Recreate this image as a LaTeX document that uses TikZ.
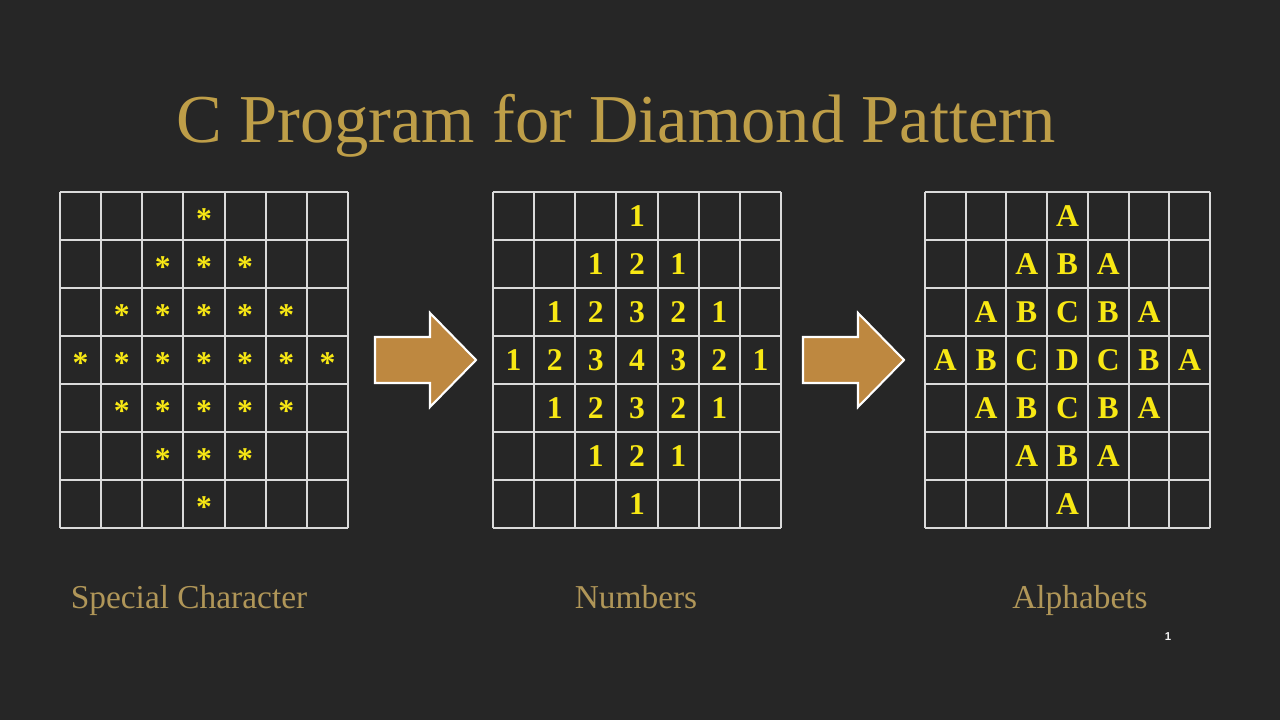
\documentclass[tikz,border=0pt]{standalone}
\usepackage{fontspec}
\setmainfont{Liberation Serif}
\newfontfamily\slidesans{Liberation Sans}
\usepackage{tikz}

\definecolor{slidebg}{RGB}{38,38,38}
\definecolor{titlegold}{RGB}{190,158,72}
\definecolor{labelgold}{RGB}{176,150,88}
\definecolor{cellyellow}{RGB}{248,232,20}
\definecolor{gridgray}{RGB}{218,218,218}
\definecolor{arrowbrown}{RGB}{190,136,64}

\begin{document}
\begin{tikzpicture}[every node/.style={inner sep=0pt, outer sep=0pt},
  cell/.style={text=cellyellow, font=\fontsize{18}{18}\selectfont\bfseries},
  starcell/.style={cell, yshift=-2pt},
  caption/.style={text=labelgold, font=\fontsize{19}{19}\selectfont, anchor=base},
  gridline/.style={step=1, color=gridgray, line width=1.1pt},
  bigarrow/.style={fill=arrowbrown, draw=white, line width=1.2pt, line join=miter}]

\fill[slidebg] (0,0) rectangle (25.6,14.4);
\useasboundingbox (0,0) rectangle (25.6,14.4);

\node[text=titlegold, font=\fontsize{39}{39}\selectfont, anchor=base] (title) at (12.32,11.54) {C Program for Diamond Pattern};

% special character
\begin{scope}[shift={(1.2,3.84)}, x=0.8229cm, y=0.96cm]
\node[starcell] (s14) at (3.5,6.5) {*};
\node[starcell] (s23) at (2.5,5.5) {*};
\node[starcell] (s24) at (3.5,5.5) {*};
\node[starcell] (s25) at (4.5,5.5) {*};
\node[starcell] (s32) at (1.5,4.5) {*};
\node[starcell] (s33) at (2.5,4.5) {*};
\node[starcell] (s34) at (3.5,4.5) {*};
\node[starcell] (s35) at (4.5,4.5) {*};
\node[starcell] (s36) at (5.5,4.5) {*};
\node[starcell] (s41) at (0.5,3.5) {*};
\node[starcell] (s42) at (1.5,3.5) {*};
\node[starcell] (s43) at (2.5,3.5) {*};
\node[starcell] (s44) at (3.5,3.5) {*};
\node[starcell] (s45) at (4.5,3.5) {*};
\node[starcell] (s46) at (5.5,3.5) {*};
\node[starcell] (s47) at (6.5,3.5) {*};
\node[starcell] (s52) at (1.5,2.5) {*};
\node[starcell] (s53) at (2.5,2.5) {*};
\node[starcell] (s54) at (3.5,2.5) {*};
\node[starcell] (s55) at (4.5,2.5) {*};
\node[starcell] (s56) at (5.5,2.5) {*};
\node[starcell] (s63) at (2.5,1.5) {*};
\node[starcell] (s64) at (3.5,1.5) {*};
\node[starcell] (s65) at (4.5,1.5) {*};
\node[starcell] (s74) at (3.5,0.5) {*};
\draw[gridline] (0,0) grid (7,7);
\end{scope}

% numbers
\begin{scope}[shift={(9.86,3.84)}, x=0.8229cm, y=0.96cm]
\node[cell] (n14) at (3.5,6.5) {1};
\node[cell] (n23) at (2.5,5.5) {1};
\node[cell] (n24) at (3.5,5.5) {2};
\node[cell] (n25) at (4.5,5.5) {1};
\node[cell] (n32) at (1.5,4.5) {1};
\node[cell] (n33) at (2.5,4.5) {2};
\node[cell] (n34) at (3.5,4.5) {3};
\node[cell] (n35) at (4.5,4.5) {2};
\node[cell] (n36) at (5.5,4.5) {1};
\node[cell] (n41) at (0.5,3.5) {1};
\node[cell] (n42) at (1.5,3.5) {2};
\node[cell] (n43) at (2.5,3.5) {3};
\node[cell] (n44) at (3.5,3.5) {4};
\node[cell] (n45) at (4.5,3.5) {3};
\node[cell] (n46) at (5.5,3.5) {2};
\node[cell] (n47) at (6.5,3.5) {1};
\node[cell] (n52) at (1.5,2.5) {1};
\node[cell] (n53) at (2.5,2.5) {2};
\node[cell] (n54) at (3.5,2.5) {3};
\node[cell] (n55) at (4.5,2.5) {2};
\node[cell] (n56) at (5.5,2.5) {1};
\node[cell] (n63) at (2.5,1.5) {1};
\node[cell] (n64) at (3.5,1.5) {2};
\node[cell] (n65) at (4.5,1.5) {1};
\node[cell] (n74) at (3.5,0.5) {1};
\draw[gridline] (0,0) grid (7,7);
\end{scope}

% alphabets
\begin{scope}[shift={(18.5,3.84)}, x=0.8143cm, y=0.96cm]
\node[cell] (a14) at (3.5,6.5) {A};
\node[cell] (a23) at (2.5,5.5) {A};
\node[cell] (a24) at (3.5,5.5) {B};
\node[cell] (a25) at (4.5,5.5) {A};
\node[cell] (a32) at (1.5,4.5) {A};
\node[cell] (a33) at (2.5,4.5) {B};
\node[cell] (a34) at (3.5,4.5) {C};
\node[cell] (a35) at (4.5,4.5) {B};
\node[cell] (a36) at (5.5,4.5) {A};
\node[cell] (a41) at (0.5,3.5) {A};
\node[cell] (a42) at (1.5,3.5) {B};
\node[cell] (a43) at (2.5,3.5) {C};
\node[cell] (a44) at (3.5,3.5) {D};
\node[cell] (a45) at (4.5,3.5) {C};
\node[cell] (a46) at (5.5,3.5) {B};
\node[cell] (a47) at (6.5,3.5) {A};
\node[cell] (a52) at (1.5,2.5) {A};
\node[cell] (a53) at (2.5,2.5) {B};
\node[cell] (a54) at (3.5,2.5) {C};
\node[cell] (a55) at (4.5,2.5) {B};
\node[cell] (a56) at (5.5,2.5) {A};
\node[cell] (a63) at (2.5,1.5) {A};
\node[cell] (a64) at (3.5,1.5) {B};
\node[cell] (a65) at (4.5,1.5) {A};
\node[cell] (a74) at (3.5,0.5) {A};
\draw[gridline] (0,0) grid (7,7);
\end{scope}

% arrows
\draw[bigarrow] (7.5,6.74) -- (8.6,6.74) -- (8.6,6.26) -- (9.52,7.2) -- (8.6,8.14) -- (8.6,7.66) -- (7.5,7.66) -- cycle;
\draw[bigarrow] (16.06,6.74) -- (17.16,6.74) -- (17.16,6.26) -- (18.08,7.2) -- (17.16,8.14) -- (17.16,7.66) -- (16.06,7.66) -- cycle;

\node[caption] (special) at (3.78,2.22) {Special Character};
\node[caption] (numbers) at (12.72,2.22) {Numbers};
\node[caption] (alphabets) at (21.6,2.22) {Alphabets};

\node[text=white!90!gray, font=\slidesans\fontsize{6.5}{6.5}\selectfont\bfseries] (slideno) at (23.36,1.66) {1};
\end{tikzpicture}
\end{document}
